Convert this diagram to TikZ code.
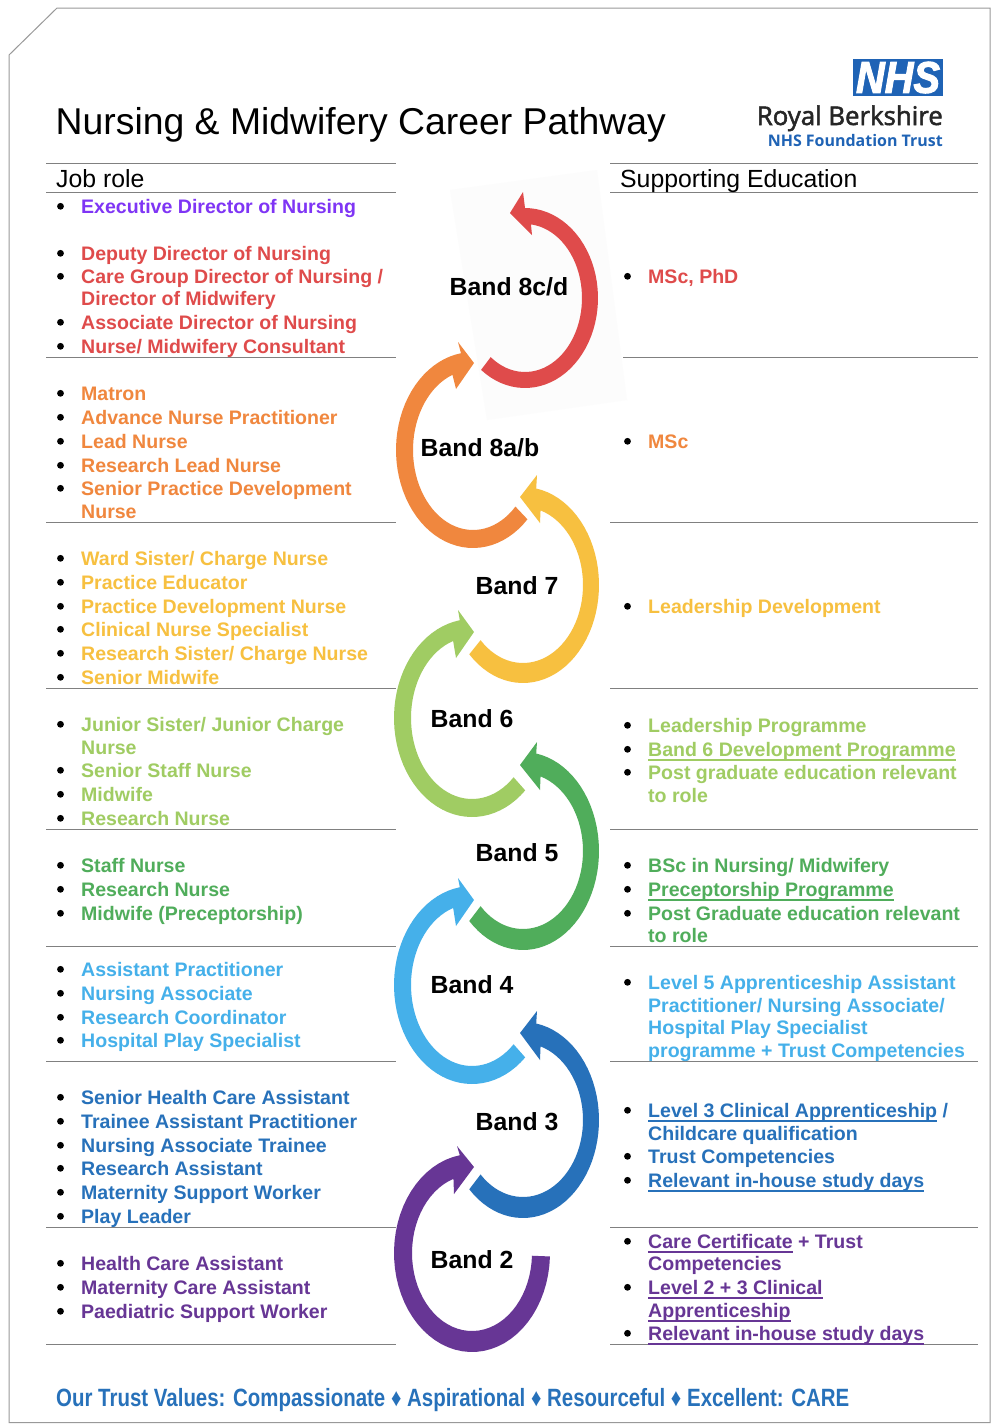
\documentclass[tikz,border=0pt]{standalone}
\usepackage{fontspec}
\usepackage{graphicx}
\setmainfont{Liberation Sans}
\newfontfamily\narrowfont[FakeStretch=0.818]{Liberation Sans}
\newfontfamily\logofont{Open Sans}
\newfontfamily\logofontmed[FakeBold=2]{Open Sans}
\newfontfamily\nhsfont[BoldItalicFeatures={FakeBold=2.5}]{Liberation Sans}
\definecolor{cviolet}{HTML}{7F35F5}
\definecolor{cred}{HTML}{DF4B4B}
\definecolor{corange}{HTML}{F0873E}
\definecolor{cyellow}{HTML}{F7C040}
\definecolor{clime}{HTML}{A0CC63}
\definecolor{cgreen}{HTML}{50AD5B}
\definecolor{csky}{HTML}{45B0EA}
\definecolor{cblue}{HTML}{2771BA}
\definecolor{cpurple}{HTML}{673695}
\definecolor{nhsblue}{HTML}{1F63B5}
\tikzset{
  frameline/.style={draw=black!40,line width=1pt},
  rowline/.style={draw=black!50,line width=1pt},
  itemtext/.style={inner sep=0,anchor=base west,font=\fontsize{19.55}{24}\selectfont\bfseries},
  headtext/.style={inner sep=0,anchor=base west,font=\fontsize{24.8}{30}\selectfont},
  bandlabel/.style={inner sep=0,font=\fontsize{24.8}{30}\selectfont\bfseries,text=black},
}
\newcommand\ulx[1]{\leavevmode\setbox0=\hbox{#1}\rlap{\vrule width\wd0 height -2.5pt depth 4.6pt}\box0\relax}
% name, x(text), y(baseline), colour, text : continuation line
\newcommand\contline[5]{\node[itemtext,text=#4] (#1) at (#2,#3) {#5};}
% bulleted line
\newcommand\bulline[5]{\fill[black] (#2-20.5,#3-6.7) circle (3.4);\node[itemtext,text=#4] (#1) at (#2,#3) {#5};}
\newcommand\ringarrow[7]{\def\rcol{#1}\def\rcx{#2}\def\rcy{#3}\def\rxo{#4}\def\ryo{#5}\def\rxi{#6}\def\ryi{#7}\ringarrowb}
\newcommand\ringarrowb[4]{%
  \fill[\rcol] plot[domain=#1:#2,samples=50] ({\rcx+\rxo*cos(\x)},{\rcy+\ryo*sin(\x)})
    -- #4 -- plot[domain=#3:#1,samples=50] ({\rcx+\rxi*cos(\x)},{\rcy+\ryi*sin(\x)}) -- cycle;}
\begin{document}
\begin{tikzpicture}[x=1pt,y=-1pt]
\useasboundingbox (0,0) rectangle (1004,1428);
\fill[white] (0,0) rectangle (1004,1428);
\draw[frameline] (57,8) -- (990,8) -- (990,1422.5) -- (9,1422.5) -- (9,55) -- cycle;
% faint scan behind the top arrow
\fill[black!1] (450,190) -- (597,170) -- (627,400) -- (487,420) -- cycle;

% title and logo
\node[inner sep=0,anchor=base west,font=\fontsize{37.35}{44}\selectfont] (title) at (55.5,134) {Nursing \& Midwifery Career Pathway};
\fill[nhsblue] (852.5,59) rectangle (943,96);
\node[inner sep=0,text=white,font=\nhsfont\fontsize{42}{42}\selectfont\bfseries\itshape] (nhs) at (898,77.5) {\resizebox{84pt}{31pt}{NHS}};
\node[inner sep=0,anchor=base east,text=black!85] (rb) at (943,125) {\resizebox{186pt}{!}{\logofontmed\fontsize{26}{30}\selectfont Royal Berkshire}};
\node[inner sep=0,anchor=base east,text=nhsblue] (ft) at (943,146) {\resizebox{175pt}{!}{\logofont\fontsize{18}{22}\selectfont\bfseries NHS Foundation Trust}};

% row lines
\foreach \yy in {163,192,357,522,688,829,946,1061,1227,1344} {\draw[rowline] (46,\yy) -- (396,\yy);}
\foreach \yy in {163,192,522,688,829,946,1061,1227,1344} {\draw[rowline] (610,\yy) -- (978,\yy);}
\draw[rowline] (623,357) -- (978,357);

\node[headtext] (jobrole) at (56,187) {Job role};
\node[headtext] (suped) at (620,187) {Supporting Education};

% arrows (bottom of the stack drawn first)
\ringarrow{cpurple}{472}{1253}{78}{99}{60}{78}{2}{261}{252}{(457,1146) -- (474,1167) -- (454,1194)}
\ringarrow{cblue}{523}{1120}{76}{98}{60}{77}{135}{-80}{-73}{(537,1011) -- (520,1033) -- (540,1060)}
\ringarrow{csky}{472}{985}{78}{99}{61}{81}{47}{261}{252}{(458,878) -- (474,900) -- (456,926)}
\ringarrow{cgreen}{523}{851}{76}{99}{60}{78}{135}{-80}{-73}{(537,742) -- (520,765) -- (540,790)}
\ringarrow{clime}{472}{718}{78}{99}{61}{81}{47}{261}{252}{(458,610) -- (474,632) -- (456,658)}
\ringarrow{cyellow}{523}{585}{76}{98}{60}{78}{135}{-80}{-73}{(537,475) -- (520,497) -- (540,523)}
\ringarrow{corange}{473}{450}{77}{98}{60}{80}{45}{261}{250}{(458,342) -- (474,363) -- (456,389)}
\ringarrow{cred}{525}{298}{73}{90}{57}{74}{127}{-90}{-84}{(523,192) -- (510,213) -- (532,235)}

% band labels
\node[bandlabel] (b8cd) at (509,287) {Band 8c/d};
\node[bandlabel] (b8ab) at (480,448) {Band 8a/b};
\node[bandlabel] (b7) at (517,586) {Band 7};
\node[bandlabel] (b6) at (472,719) {Band 6};
\node[bandlabel] (b5) at (517,853) {Band 5};
\node[bandlabel] (b4) at (472,985) {Band 4};
\node[bandlabel] (b3) at (517,1122) {Band 3};
\node[bandlabel] (b2) at (472,1260) {Band 2};

% job roles
\bulline{l01}{81}{213}{cviolet}{Executive Director of Nursing}
\bulline{l02}{81}{260}{cred}{Deputy Director of Nursing}
\bulline{l03}{81}{283}{cred}{Care Group Director of Nursing /}
\contline{l04}{81}{305}{cred}{Director of Midwifery}
\bulline{l05}{81}{329}{cred}{Associate Director of Nursing}
\bulline{l06}{81}{353}{cred}{Nurse/ Midwifery Consultant}
\bulline{l07}{81}{400}{corange}{Matron}
\bulline{l08}{81}{424}{corange}{Advance Nurse Practitioner}
\bulline{l09}{81}{448}{corange}{Lead Nurse}
\bulline{l10}{81}{472}{corange}{Research Lead Nurse}
\bulline{l11}{81}{495}{corange}{Senior Practice Development}
\contline{l12}{81}{518}{corange}{Nurse}
\bulline{l13}{81}{565}{cyellow}{Ward Sister/ Charge Nurse}
\bulline{l14}{81}{589}{cyellow}{Practice Educator}
\bulline{l15}{81}{613}{cyellow}{Practice Development Nurse}
\bulline{l16}{81}{636}{cyellow}{Clinical Nurse Specialist}
\bulline{l17}{81}{660}{cyellow}{Research Sister/ Charge Nurse}
\bulline{l18}{81}{684}{cyellow}{Senior Midwife}
\bulline{l19}{81}{731}{clime}{Junior Sister/ Junior Charge}
\contline{l20}{81}{754}{clime}{Nurse}
\bulline{l21}{81}{777}{clime}{Senior Staff Nurse}
\bulline{l22}{81}{801}{clime}{Midwife}
\bulline{l23}{81}{825}{clime}{Research Nurse}
\bulline{l24}{81}{872}{cgreen}{Staff Nurse}
\bulline{l25}{81}{896}{cgreen}{Research Nurse}
\bulline{l26}{81}{920}{cgreen}{Midwife (Preceptorship)}
\bulline{l27}{81}{976}{csky}{Assistant Practitioner}
\bulline{l28}{81}{1000}{csky}{Nursing Associate}
\bulline{l29}{81}{1024}{csky}{Research Coordinator}
\bulline{l30}{81}{1047}{csky}{Hospital Play Specialist}
\bulline{l31}{81}{1104}{cblue}{Senior Health Care Assistant}
\bulline{l32}{81}{1128}{cblue}{Trainee Assistant Practitioner}
\bulline{l33}{81}{1152}{cblue}{Nursing Associate Trainee}
\bulline{l34}{81}{1175}{cblue}{Research Assistant}
\bulline{l35}{81}{1199}{cblue}{Maternity Support Worker}
\bulline{l36}{81}{1223}{cblue}{Play Leader}
\bulline{l37}{81}{1270}{cpurple}{Health Care Assistant}
\bulline{l38}{81}{1294}{cpurple}{Maternity Care Assistant}
\bulline{l39}{81}{1318}{cpurple}{Paediatric Support Worker}

% supporting education
\bulline{r01}{648}{283}{cred}{MSc, PhD}
\bulline{r02}{648}{448}{corange}{MSc}
\bulline{r03}{648}{613}{cyellow}{Leadership Development}
\bulline{r04}{648}{732}{clime}{Leadership Programme}
\bulline{r05}{648}{756}{clime}{\ulx{Band 6 Development Programme}}
\bulline{r06}{648}{779}{clime}{Post graduate education relevant}
\contline{r07}{648}{802}{clime}{to role}
\bulline{r08}{648}{872}{cgreen}{BSc in Nursing/ Midwifery}
\bulline{r09}{648}{896}{cgreen}{\ulx{Preceptorship Programme}}
\bulline{r10}{648}{920}{cgreen}{Post Graduate education relevant}
\contline{r11}{648}{942}{cgreen}{to role}
\bulline{r12}{648}{989}{csky}{Level 5 Apprenticeship Assistant}
\contline{r13}{648}{1012}{csky}{Practitioner/ Nursing Associate/}
\contline{r14}{648}{1034}{csky}{Hospital Play Specialist}
\contline{r15}{648}{1057}{csky}{programme + Trust Competencies}
\bulline{r16}{648}{1117}{cblue}{\ulx{Level 3 Clinical Apprenticeship} /}
\contline{r17}{648}{1140}{cblue}{Childcare qualification}
\bulline{r18}{648}{1163}{cblue}{Trust Competencies}
\bulline{r19}{648}{1187}{cblue}{\ulx{Relevant in-house study days}}
\bulline{r20}{648}{1248}{cpurple}{\ulx{Care Certificate} + Trust}
\contline{r21}{648}{1270}{cpurple}{Competencies}
\bulline{r22}{648}{1294}{cpurple}{\ulx{Level 2 + 3 Clinical}}
\contline{r23}{648}{1317}{cpurple}{\ulx{Apprenticeship}}
\bulline{r24}{648}{1340}{cpurple}{\ulx{Relevant in-house study days}}

% values
\node[inner sep=0,anchor=base west,text=cblue,font=\narrowfont\fontsize{25}{30}\selectfont\bfseries] (values) at (56,1406)
  {Our Trust Values: Compassionate ♦ Aspirational ♦ Resourceful ♦ Excellent: CARE};
\end{tikzpicture}
\end{document}
